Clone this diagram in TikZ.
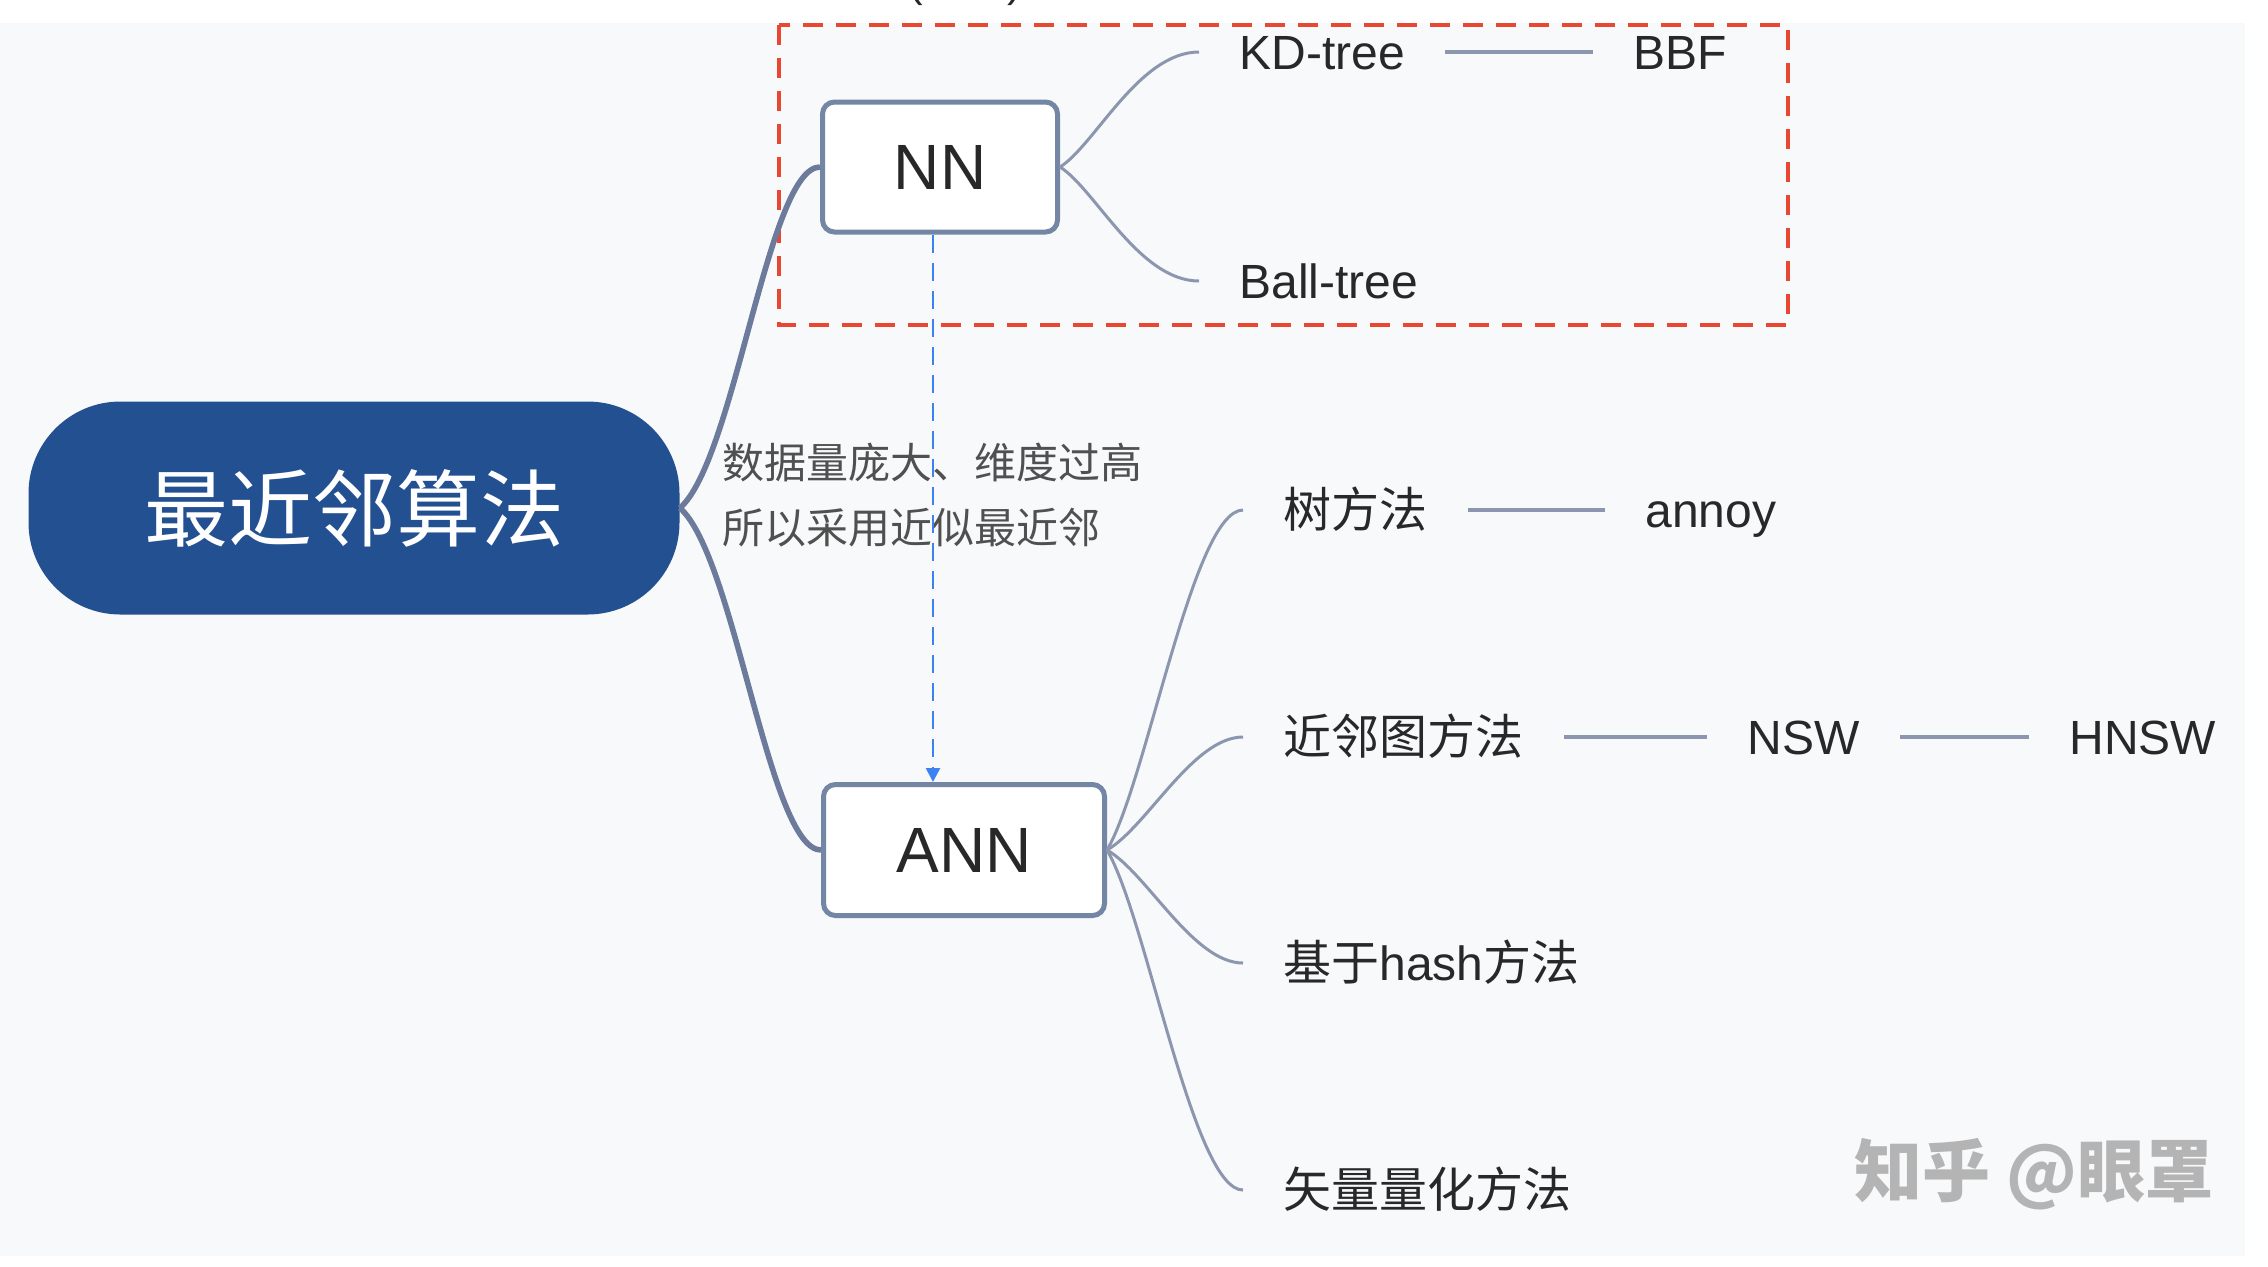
\documentclass[tikz,border=0pt]{standalone}
\usepackage{fontspec}
\setmainfont{Liberation Sans}
\newfontfamily\cjk{Noto Sans CJK SC}
\usetikzlibrary{arrows.meta,calc}
\definecolor{bgc}{RGB}{248,249,251}
\definecolor{rootblue}{RGB}{35,80,145}
\definecolor{boxborder}{RGB}{115,135,165}
\definecolor{linkdark}{RGB}{108,122,155}
\definecolor{linklight}{RGB}{140,150,175}
\definecolor{textgray}{RGB}{40,40,40}
\definecolor{labelgray}{RGB}{80,80,80}
\definecolor{dashred}{RGB}{232,72,50}
\definecolor{dashblue}{RGB}{60,130,240}
\definecolor{wmgray}{RGB}{180,180,180}
\begin{document}
\begin{tikzpicture}[x=0.5pt,y=-0.5pt,
  rootnode/.style={fill=rootblue, text=white, rounded corners=46pt,
    minimum width=325.5pt, minimum height=106.5pt, inner sep=0pt,
    font=\cjk\fontsize{42}{50}\selectfont},
  boxnode/.style={draw=boxborder, line width=2.5pt, fill=white, rounded corners=6pt,
    inner sep=0pt, text=textgray, font=\fontsize{32}{38}\selectfont},
  leaf/.style={anchor=west, inner xsep=20pt, inner ysep=0pt, text height=17.3pt,
    text depth=0pt, text=textgray, font=\fontsize{24}{29}\selectfont},
  mainlink/.style={draw=linkdark, line width=2.8pt},
  sublink/.style={draw=linklight, line width=1.5pt},
  siblink/.style={draw=linklight, line width=2pt},
  redframe/.style={draw=dashred, line width=2pt, dash pattern=on 10pt off 6.5pt},
  bluearrow/.style={draw=dashblue, line width=1.3pt, dash pattern=on 9pt off 5pt,
    -{Triangle[width=7pt,length=7pt]}},
  note/.style={anchor=north west, inner sep=0pt, align=left, text=labelgray,
    font=\cjk\fontsize{21}{32.5}\selectfont},
  watermark/.style={inner sep=0pt, text=wmgray, font=\cjk\bfseries\fontsize{34}{40}\selectfont}
]
\useasboundingbox (0,0) rectangle (2268,1266);
\fill[white] (0,0) rectangle (2268,1266);
\fill[bgc] (0,23) rectangle (2245,1256);

% cut-off text at the very top
\node[anchor=base west, inner sep=0pt, text=textgray, font=\fontsize{22}{26}\selectfont] (topcut) at (908,-4) {(\hspace{42pt})};

% red dashed frame
\draw[redframe] (779,25) rectangle (1788,325);

% nodes
\node[rootnode] (root) at (354,508) {最近邻算法};
\node[boxnode, minimum width=117.5pt, minimum height=65pt] (NN) at (940,167) {NN};
\node[boxnode, minimum width=140.5pt, minimum height=65.5pt] (ANN) at (964,850) {ANN};

\node[leaf] (kd) at (1199,52) {KD-tree};
\node[leaf] (bbf) at (1593,52) {BBF};
\node[leaf] (ball) at (1199,281) {Ball-tree};

\node[leaf] (treem) at (1243,510) {\cjk 树方法};
\node[leaf] (annoy) at (1605,510) {annoy};
\node[leaf] (graphm) at (1243,737) {\cjk 近邻图方法};
\node[leaf] (nsw) at (1707,737) {NSW};
\node[leaf] (hnsw) at (2029,737) {HNSW};
\node[leaf] (hashm) at (1243,963) {{\cjk 基于}hash{\cjk 方法}};
\node[leaf] (vqm) at (1243,1190) {\cjk 矢量量化方法};

\node[note] (reason) at (722,443) {数据量庞大、维度过高\\所以采用近似最近邻};

\node[watermark] (wm) at (2034,1174) {知乎 @眼罩};

% main connectors
\draw[mainlink] (root.east) .. controls +(55,-48) and +(-52,0) .. (NN.west);
\draw[mainlink] (root.east) .. controls +(55,48) and +(-52,0) .. (ANN.west);

% NN children
\draw[sublink] (NN.east) .. controls +(35,-22) and +(-60,0) .. (kd.west);
\draw[sublink] (NN.east) .. controls +(35,22) and +(-60,0) .. (ball.west);
\draw[siblink] (kd.east) -- (bbf.west);

% ANN children
\draw[sublink] (ANN.east) .. controls +(40,-68) and +(-50,0) .. (treem.west);
\draw[sublink] (ANN.east) .. controls +(40,-23) and +(-50,0) .. (graphm.west);
\draw[sublink] (ANN.east) .. controls +(40,23) and +(-50,0) .. (hashm.west);
\draw[sublink] (ANN.east) .. controls +(40,68) and +(-50,0) .. (vqm.west);
\draw[siblink] (treem.east) -- (annoy.west);
\draw[siblink] (graphm.east) -- (nsw.west);
\draw[siblink] (nsw.east) -- (hnsw.west);

% dashed blue arrow NN -> ANN
\coordinate (arrs) at ($(NN.south)+(-7,0)$);
\draw[bluearrow] (arrs) -- (arrs |- ANN.north);
\end{tikzpicture}
\end{document}
